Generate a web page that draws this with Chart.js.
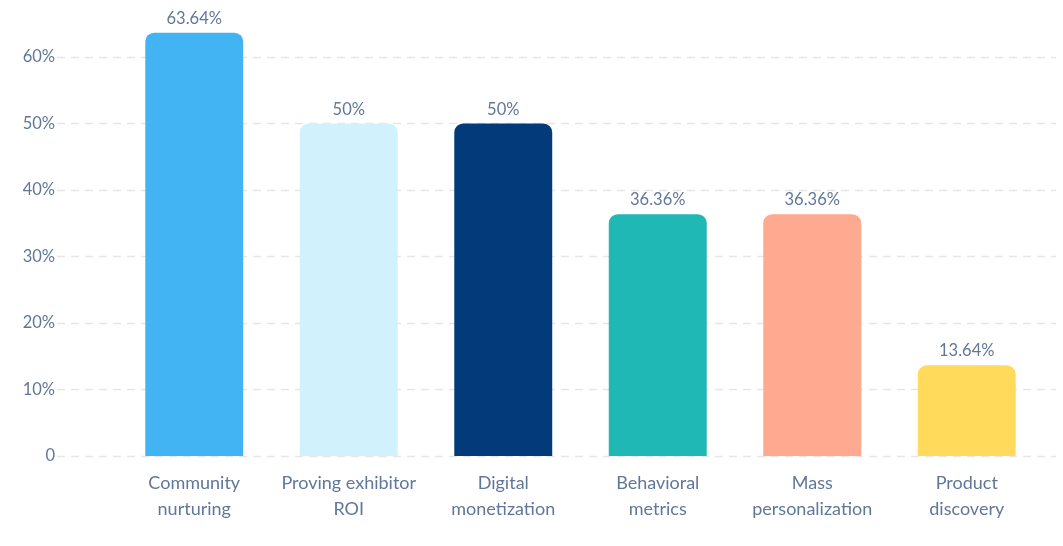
<!DOCTYPE html>
<html>
<head>
<meta charset="utf-8">
<script src="https://cdn.jsdelivr.net/npm/chart.js@4"></script>
<style>
html,body{margin:0;padding:0;background:#fff;}
#wrap{width:1063px;height:546px;position:relative;}
</style>
</head>
<body>
<div id="wrap"><canvas id="c" width="1063" height="546"></canvas></div>
<script>
const categories = [["Community","nurturing"],["Proving exhibitor","ROI"],["Digital","monetization"],["Behavioral","metrics"],["Mass","personalization"],["Product","discovery"]];
const values = [63.64, 50, 50, 36.36, 36.36, 13.64];
const valueLabels = ["63.64%","50%","50%","36.36%","36.36%","13.64%"];
const barColors = ["#42b3f3","#d1f1fd","#033a79","#20b8b5","#ffaa90","#ffda5b"];
const tickValues = [0,10,20,30,40,50,60];

const textColor = "#61779a";
const fontFamily = "Lato, 'Open Sans', sans-serif";

const gridPlugin = {
  id: 'fullGrid',
  beforeDatasetsDraw(chart) {
    const ctx = chart.ctx;
    const y = chart.scales.y;
    ctx.save();
    ctx.strokeStyle = '#e6e6e6';
    ctx.lineWidth = 1.5;
    ctx.setLineDash([8, 6]);
    y.ticks.forEach(t => {
      const py = Math.round(y.getPixelForValue(t.value)) + 0.5;
      ctx.beginPath();
      ctx.moveTo(57, py);
      ctx.lineTo(1056, py);
      ctx.stroke();
    });
    ctx.restore();
  }
};

const labelPlugin = {
  id: 'valueLabels',
  afterDatasetsDraw(chart) {
    const ctx = chart.ctx;
    const meta = chart.getDatasetMeta(0);
    ctx.save();
    ctx.fillStyle = textColor;
    ctx.font = "16.5px " + fontFamily;
    ctx.textAlign = 'center';
    ctx.textBaseline = 'bottom';
    meta.data.forEach((bar, i) => {
      ctx.fillText(valueLabels[i], bar.x, bar.y - 6);
    });
    ctx.restore();
  }
};

new Chart(document.getElementById('c'), {
  type: 'bar',
  data: {
    labels: categories,
    datasets: [{
      data: values,
      backgroundColor: barColors,
      borderRadius: {topLeft: 9, topRight: 9, bottomLeft: 0, bottomRight: 0},
      borderSkipped: 'start',
      barPercentage: 0.634,
      categoryPercentage: 1
    }]
  },
  options: {
    responsive: false,
    animation: false,
    devicePixelRatio: 1,
    layout: { padding: { top: 17, right: 19, bottom: 0, left: 0 } },
    plugins: { legend: { display: false }, tooltip: { enabled: false } },
    scales: {
      x: {
        grid: { display: false, drawTicks: false },
        border: { display: false },
        afterFit(scale) { scale.height = 90; scale.paddingLeft = 0; scale.paddingRight = 0; },
        ticks: { color: textColor, font: { family: fontFamily, size: 18, lineHeight: 1.45 }, padding: 14, maxRotation: 0, autoSkip: false }
      },
      y: {
        min: 0,
        max: 66,
        grid: { display: false, drawTicks: false },
        border: { display: false },
        afterFit(scale) { scale.width = 117; scale.paddingTop = 0; scale.paddingBottom = 0; },
        afterBuildTicks(scale) { scale.ticks = tickValues.map(v => ({ value: v })); },
        ticks: {
          color: textColor,
          font: { family: fontFamily, size: 16.5 },
          padding: 62,
          callback: v => v === 0 ? '0' : v + '%'
        }
      }
    }
  },
  plugins: [gridPlugin, labelPlugin]
});
</script>
</body>
</html>
